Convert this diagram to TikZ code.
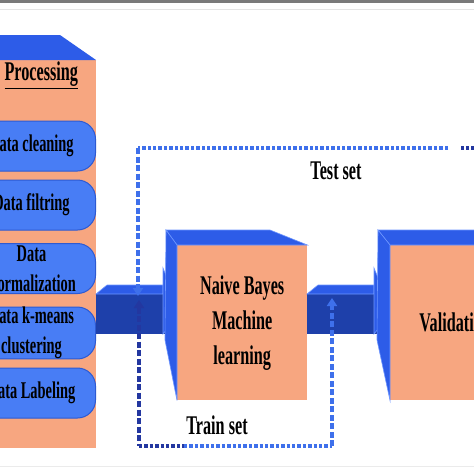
\documentclass[tikz,border=0pt]{standalone}
\usepackage{fontspec}
\newfontfamily\figfont{Liberation Serif}[FakeStretch=0.6]
\usetikzlibrary{positioning,arrows.meta}
\definecolor{salmon}{RGB}{247,166,128}
\definecolor{pillblue}{RGB}{72,125,245}
\definecolor{pilledge}{RGB}{45,90,210}
\definecolor{barblue}{RGB}{30,64,170}
\definecolor{topblue}{RGB}{45,92,232}
\definecolor{edgeblue}{RGB}{110,150,255}
\definecolor{dashlight}{RGB}{62,112,235}
\definecolor{dashdark}{RGB}{35,55,160}
\tikzstyle{face}=[rectangle, fill=salmon, inner sep=0pt, align=center,
    font=\figfont\bfseries\fontsize{27}{35}\selectfont]
\tikzstyle{pill}=[rectangle, rounded corners=18pt, fill=pillblue, draw=pilledge,
    line width=1pt, minimum width=128pt, minimum height=50pt, inner sep=0pt,
    align=center, font=\figfont\bfseries\fontsize{24}{30}\selectfont]
\tikzstyle{bevel}=[fill=topblue, draw=edgeblue, line width=0.6pt]
\tikzstyle{bar}=[rectangle, fill=barblue, inner sep=0pt]
\tikzstyle{hdash}=[line width=3.6pt, dash pattern=on 3.4pt off 2pt]
\tikzstyle{vdash}=[line width=3.2pt, dash pattern=on 6pt off 2.5pt]
\tikzstyle{lbl}=[font=\figfont\bfseries\fontsize{27}{35}\selectfont]

\begin{document}
\begin{tikzpicture}[x=1pt,y=-1pt,>={Triangle[length=8pt,width=10pt]}]
  \useasboundingbox (0,0) rectangle (474,474);
  \clip (0,0) rectangle (474,474);
  \fill[white] (0,0) rectangle (474,474);
  % page rules
  \fill[black!52] (0,0) rectangle (474,2.5);
  \draw[black!10, line width=0.8pt] (0,9) -- (474,9);
  \draw[black!8, line width=0.8pt] (0,466) -- (474,466);

  % pre-processing column
  \node[face, minimum width=110pt, minimum height=388pt, anchor=north east] (prep) at (96,60) {};
  \fill[bevel, draw=none] (prep.north west) -- ++(0,-25) -- (60,35) -- (prep.north east) -- cycle;
  \node[lbl, anchor=west] (ptitle) at (1,75) {\underline{Processing}};

  \node[pill, anchor=east] (clean)  at (96,146)   {Data cleaning};
  \node[pill, anchor=east] (filter) at (96,205)   {Data filtring};
  \node[pill, anchor=east] (norm)   at (96,268.5) {Data\\Normalization};
  \node[pill, anchor=east] (kmeans) at (96,333)   {Data k-means\\clustering};
  \node[pill, anchor=east] (label)  at (96,393)   {Data Labeling};

  % block arrow into the classifier
  \node[bar, minimum width=81pt, minimum height=40pt, anchor=north west] (bar1) at (96,294) {};
  \fill[bevel] (bar1.north west) -- (107,285) -- (163,285) -- (163,294) -- cycle;
  \fill[bevel] (163,294) -- (163,268) -- (181,312) -- (163,334) -- cycle;

  % classifier box
  \node[face, minimum width=130pt, minimum height=155pt, anchor=north west] (nb) at (177,245)
       {Naive Bayes\\Machine\\learning};
  \fill[bevel] (nb.north west) -- (166,230) -- (270,230) -- (nb.north east) -- cycle;
  \fill[bevel] (166,230) -- (nb.north west) -- (nb.south west) -- (165,340) -- cycle;

  % block arrow into validation
  \node[bar, minimum width=83pt, minimum height=40pt, anchor=north west] (bar2) at (307,294) {};
  \fill[bevel] (bar2.north west) -- (318,285) -- (374,285) -- (374,294) -- cycle;
  \fill[bevel] (374,294) -- (374,268) -- (392,312) -- (374,334) -- cycle;

  % validation box
  \node[face, minimum width=130pt, minimum height=155pt, anchor=north west] (val) at (390,245) {Validation};
  \fill[bevel] (val.north west) -- (378,230) -- (510,230) -- (val.north east) -- cycle;
  \fill[bevel] (378,230) -- (val.north west) -- (val.south west) -- (377,340) -- cycle;

  % test set feedback
  \coordinate (tsright) at (480,148);
  \coordinate (tsdark)  at (461,148);
  \coordinate (tsgap)   at (448,148);
  \coordinate (tscorner) at (138,148);
  \coordinate (tsin)    at (138,296);
  \draw[hdash, dashdark] (tsright) -- (tsdark);
  \draw[hdash, dashlight] (tsgap) -- (tscorner);
  \draw[vdash, dashlight, ->] (tscorner) -- (tsin);

  % train set loop
  \coordinate (trL)  at (139,300);
  \coordinate (trLb) at (139,446);
  \coordinate (trmid) at (184,446);
  \coordinate (trRb) at (332,446);
  \coordinate (trR)  at (332,298);
  \draw[vdash, dashdark, <-] (trL) -- (trLb);
  \draw[hdash, dashdark] (trLb) -- (trmid);
  \draw[hdash, dashlight] (trmid) -- (trRb);
  \draw[vdash, dashlight, ->] (trRb) -- (trR);

  \node[lbl] (testlbl)  at (336,171) {Test set};
  \node[lbl] (trainlbl) at (217,425) {Train set};
\end{tikzpicture}
\end{document}
